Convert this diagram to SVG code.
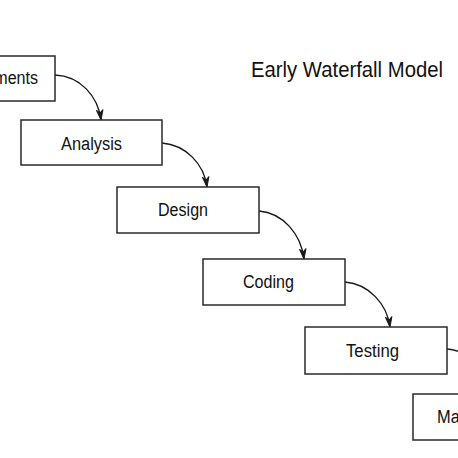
<svg xmlns="http://www.w3.org/2000/svg" width="458" height="458" viewBox="0 0 458 458">
<style>
.box{fill:#fff;stroke:#2a2a2a;stroke-width:1.5}
.lbl{font-family:"Liberation Sans",Arial,sans-serif;font-size:18px;fill:#111;text-anchor:middle}
.conn{fill:none;stroke:#1a1a1a;stroke-width:1.4}
</style>
<defs>
<marker id="ah" markerUnits="userSpaceOnUse" markerWidth="14" markerHeight="10" viewBox="-11 -5 13 10" refX="0" refY="0" orient="auto">
<path d="M-10,-3.2 L0,0 L-10,3.2 L-7,0 Z" fill="#1a1a1a" stroke="#1a1a1a" stroke-width="1" stroke-linejoin="round"/>
</marker>
</defs>
<rect width="458" height="458" fill="#fff"/>
<text x="347" y="77" font-family="Liberation Sans, Arial, sans-serif" font-size="22" fill="#111" text-anchor="middle" textLength="192" lengthAdjust="spacingAndGlyphs">Early Waterfall Model</text>
<g id="connectors">
<path class="conn" d="M55,75 C80,76 98,96 101,120" marker-end="url(#ah)"/>
<path class="conn" d="M162,143 C186,145 204,164 207,187" marker-end="url(#ah)"/>
<path class="conn" d="M259,211 C283,213 301,234 304,259" marker-end="url(#ah)"/>
<path class="conn" d="M345,282 C369,284 387,304 390,327" marker-end="url(#ah)"/>
<path class="conn" d="M447,349 C471,351 489,371 492,394" marker-end="url(#ah)"/>
</g>
<g id="requirements">
<rect class="box" x="-85" y="56" width="140" height="45"/>
<text class="lbl" x="-12" y="84" textLength="100" lengthAdjust="spacingAndGlyphs">Requirements</text>
</g>
<g id="analysis">
<rect class="box" x="21" y="120" width="141" height="45"/>
<text class="lbl" x="91.5" y="150" textLength="61" lengthAdjust="spacingAndGlyphs">Analysis</text>
</g>
<g id="design">
<rect class="box" x="117" y="187" width="142" height="46"/>
<text class="lbl" x="183" y="216" textLength="50" lengthAdjust="spacingAndGlyphs">Design</text>
</g>
<g id="coding">
<rect class="box" x="203" y="259" width="142" height="46"/>
<text class="lbl" x="268.5" y="288" textLength="51" lengthAdjust="spacingAndGlyphs">Coding</text>
</g>
<g id="testing">
<rect class="box" x="305" y="327" width="142" height="47"/>
<text class="lbl" x="372.5" y="357" textLength="53" lengthAdjust="spacingAndGlyphs">Testing</text>
</g>
<g id="maintenance">
<rect class="box" x="413" y="394" width="142" height="46"/>
<text class="lbl" x="484" y="423" textLength="94" lengthAdjust="spacingAndGlyphs">Maintenance</text>
</g>
</svg>
